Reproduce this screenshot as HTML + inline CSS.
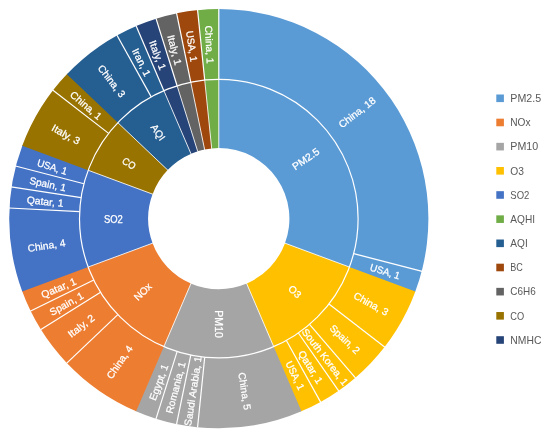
<!DOCTYPE html>
<html><head><meta charset="utf-8"><title>Sunburst</title>
<style>
html,body{margin:0;padding:0;background:#fff;}
body{width:550px;height:435px;overflow:hidden;}
svg{display:block;}
.il line{stroke:#fff;stroke-width:0.85;}
.ol line,.ol circle{stroke:#fff;stroke-width:1.2;}
.l text{font-family:"Liberation Sans",sans-serif;font-size:10.1px;fill:#fff;text-anchor:middle;stroke:#fff;stroke-width:0.25;}
.g text{font-family:"Liberation Sans",sans-serif;font-size:10.4px;fill:#595959;}
</style></head><body>
<svg width="550" height="435" viewBox="0 0 550 435">
<rect width="550" height="435" fill="#fff"/>
<g>
<path d="M218.80,9.05A209.6,209.6 0 0 1 415.03,292.30L284.90,243.46A70.6,70.6 0 0 0 218.80,148.05Z" fill="#5B9BD5"/>
<path d="M415.35,291.45A209.6,209.6 0 0 1 300.62,411.62L246.36,283.65A70.6,70.6 0 0 0 285.01,243.17Z" fill="#FFC000"/>
<path d="M301.46,411.26A209.6,209.6 0 0 1 135.30,410.90L190.68,283.41A70.6,70.6 0 0 0 246.64,283.53Z" fill="#A5A5A5"/>
<path d="M136.14,411.26A209.6,209.6 0 0 1 21.93,290.59L152.49,242.88A70.6,70.6 0 0 0 190.96,283.53Z" fill="#ED7D31"/>
<path d="M22.25,291.45A209.6,209.6 0 0 1 22.57,145.00L152.70,193.84A70.6,70.6 0 0 0 152.59,243.17Z" fill="#4472C4"/>
<path d="M22.25,145.85A209.6,209.6 0 0 1 67.51,73.58L167.84,169.79A70.6,70.6 0 0 0 152.59,194.13Z" fill="#997300"/>
<path d="M66.88,74.24A209.6,209.6 0 0 1 136.98,25.68L191.24,153.65A70.6,70.6 0 0 0 167.63,170.01Z" fill="#255E91"/>
<path d="M136.14,26.04A209.6,209.6 0 0 1 156.93,18.39L197.96,151.20A70.6,70.6 0 0 0 190.96,153.77Z" fill="#264478"/>
<path d="M156.05,18.66A209.6,209.6 0 0 1 177.50,13.16L204.89,149.43A70.6,70.6 0 0 0 197.66,151.29Z" fill="#636363"/>
<path d="M176.61,13.34A209.6,209.6 0 0 1 198.51,10.03L211.96,148.38A70.6,70.6 0 0 0 204.59,149.50Z" fill="#9E480E"/>
<path d="M197.60,10.13A209.6,209.6 0 0 1 218.80,9.05L218.80,148.05A70.6,70.6 0 0 0 211.66,148.41Z" fill="#70AD47"/>
</g>
<g class="il">
<line x1="218.80" y1="148.55" x2="218.80" y2="79.35"/>
<line x1="284.54" y1="243.00" x2="349.43" y2="267.03"/>
<line x1="246.44" y1="283.07" x2="273.73" y2="346.66"/>
<line x1="191.16" y1="283.07" x2="163.87" y2="346.66"/>
<line x1="153.06" y1="243.00" x2="88.17" y2="267.03"/>
<line x1="153.06" y1="194.30" x2="88.17" y2="170.27"/>
<line x1="167.99" y1="170.35" x2="117.84" y2="122.68"/>
<line x1="191.16" y1="154.23" x2="163.87" y2="90.64"/>
<line x1="197.81" y1="151.76" x2="177.10" y2="85.74"/>
<line x1="204.69" y1="149.98" x2="190.76" y2="82.20"/>
<line x1="211.71" y1="148.91" x2="204.71" y2="80.06"/>
</g>
<g class="ol">
<line x1="353.65" y1="253.57" x2="422.19" y2="271.31"/>
<line x1="328.96" y1="303.92" x2="384.94" y2="347.25"/>
<line x1="309.54" y1="324.35" x2="355.65" y2="378.07"/>
<line x1="298.38" y1="332.98" x2="338.82" y2="391.09"/>
<line x1="286.40" y1="340.45" x2="320.76" y2="402.35"/>
<line x1="204.71" y1="357.24" x2="197.54" y2="427.67"/>
<line x1="190.76" y1="355.10" x2="176.51" y2="424.45"/>
<line x1="177.10" y1="351.56" x2="155.90" y2="419.11"/>
<line x1="117.84" y1="314.62" x2="66.52" y2="363.40"/>
<line x1="100.58" y1="292.33" x2="40.50" y2="329.79"/>
<line x1="93.74" y1="280.00" x2="30.17" y2="311.18"/>
<line x1="79.68" y1="211.59" x2="8.97" y2="208.01"/>
<line x1="81.11" y1="197.56" x2="11.12" y2="186.84"/>
<line x1="83.95" y1="183.73" x2="15.41" y2="165.99"/>
<line x1="108.64" y1="133.38" x2="52.66" y2="90.05"/>
<line x1="151.20" y1="96.85" x2="116.84" y2="34.95"/>
<line x1="163.87" y1="90.64" x2="135.95" y2="25.58"/>
<line x1="177.10" y1="85.74" x2="155.90" y2="18.19"/>
<line x1="190.76" y1="82.20" x2="176.51" y2="12.85"/>
<line x1="204.71" y1="80.06" x2="197.54" y2="9.63"/>
<line x1="218.80" y1="79.35" x2="218.80" y2="8.55"/>
<circle cx="218.8" cy="218.65" r="139.3" fill="none"/>
</g>
<g class="l">
<text x="305.35" y="158.41" transform="rotate(-34.84 305.35 158.41)" dy="4.1" textLength="30.60" lengthAdjust="spacingAndGlyphs">PM2.5</text>
<text x="356.75" y="111.87" transform="rotate(-37.74 356.75 111.87)" dy="4.1" textLength="43.87" lengthAdjust="spacingAndGlyphs">China, 18</text>
<text x="385.25" y="270.87" transform="rotate(17.42 385.25 270.87)" dy="4.1" textLength="30.88" lengthAdjust="spacingAndGlyphs">USA, 1</text>
<text x="295.23" y="291.30" transform="rotate(43.55 295.23 291.30)" dy="4.1" textLength="13.56" lengthAdjust="spacingAndGlyphs">O3</text>
<text x="371.33" y="303.31" transform="rotate(29.03 371.33 303.31)" dy="4.1" textLength="37.99" lengthAdjust="spacingAndGlyphs">China, 3</text>
<text x="345.24" y="338.84" transform="rotate(43.55 345.24 338.84)" dy="4.1" textLength="37.13" lengthAdjust="spacingAndGlyphs">Spain, 2</text>
<text x="325.58" y="356.60" transform="rotate(52.26 325.58 356.60)" dy="4.1" textLength="68.69" lengthAdjust="spacingAndGlyphs">South Korea, 1</text>
<text x="311.08" y="366.70" transform="rotate(58.06 311.08 366.70)" dy="4.1" textLength="37.00" lengthAdjust="spacingAndGlyphs">Qatar, 1</text>
<text x="295.63" y="375.27" transform="rotate(63.87 295.63 375.27)" dy="4.1" textLength="30.88" lengthAdjust="spacingAndGlyphs">USA, 1</text>
<text x="218.80" y="324.10" transform="rotate(90.00 218.80 324.10)" dy="4.1" textLength="27.67" lengthAdjust="spacingAndGlyphs">PM10</text>
<text x="245.22" y="391.09" transform="rotate(81.29 245.22 391.09)" dy="4.1" textLength="37.99" lengthAdjust="spacingAndGlyphs">China, 5</text>
<text x="192.38" y="391.09" transform="rotate(278.71 192.38 391.09)" dy="4.1" textLength="70.14" lengthAdjust="spacingAndGlyphs">Saudi Arabia, 1</text>
<text x="175.07" y="387.53" transform="rotate(284.52 175.07 387.53)" dy="4.1" textLength="52.71" lengthAdjust="spacingAndGlyphs">Romania, 1</text>
<text x="158.21" y="382.24" transform="rotate(290.32 158.21 382.24)" dy="4.1" textLength="37.70" lengthAdjust="spacingAndGlyphs">Egypt, 1</text>
<text x="142.37" y="291.30" transform="rotate(316.45 142.37 291.30)" dy="4.1" textLength="20.12" lengthAdjust="spacingAndGlyphs">NOx</text>
<text x="119.14" y="361.83" transform="rotate(304.84 119.14 361.83)" dy="4.1" textLength="37.99" lengthAdjust="spacingAndGlyphs">China, 4</text>
<text x="80.85" y="325.43" transform="rotate(322.26 80.85 325.43)" dy="4.1" textLength="30.71" lengthAdjust="spacingAndGlyphs">Italy, 2</text>
<text x="66.27" y="303.31" transform="rotate(330.97 66.27 303.31)" dy="4.1" textLength="37.13" lengthAdjust="spacingAndGlyphs">Spain, 1</text>
<text x="58.49" y="287.45" transform="rotate(336.77 58.49 287.45)" dy="4.1" textLength="37.00" lengthAdjust="spacingAndGlyphs">Qatar, 1</text>
<text x="113.35" y="218.65" transform="rotate(360.00 113.35 218.65)" dy="4.1" textLength="18.89" lengthAdjust="spacingAndGlyphs">SO2</text>
<text x="46.36" y="245.07" transform="rotate(351.29 46.36 245.07)" dy="4.1" textLength="37.99" lengthAdjust="spacingAndGlyphs">China, 4</text>
<text x="45.25" y="201.00" transform="rotate(365.81 45.25 201.00)" dy="4.1" textLength="37.00" lengthAdjust="spacingAndGlyphs">Qatar, 1</text>
<text x="47.92" y="183.53" transform="rotate(371.61 47.92 183.53)" dy="4.1" textLength="37.13" lengthAdjust="spacingAndGlyphs">Spain, 1</text>
<text x="52.35" y="166.43" transform="rotate(377.42 52.35 166.43)" dy="4.1" textLength="30.88" lengthAdjust="spacingAndGlyphs">USA, 1</text>
<text x="129.31" y="162.87" transform="rotate(391.94 129.31 162.87)" dy="4.1" textLength="13.76" lengthAdjust="spacingAndGlyphs">CO</text>
<text x="66.27" y="133.99" transform="rotate(389.03 66.27 133.99)" dy="4.1" textLength="30.71" lengthAdjust="spacingAndGlyphs">Italy, 3</text>
<text x="86.43" y="105.02" transform="rotate(400.65 86.43 105.02)" dy="4.1" textLength="37.99" lengthAdjust="spacingAndGlyphs">China, 1</text>
<text x="158.56" y="132.10" transform="rotate(415.16 158.56 132.10)" dy="4.1" textLength="17.31" lengthAdjust="spacingAndGlyphs">AQI</text>
<text x="112.02" y="80.70" transform="rotate(412.26 112.02 80.70)" dy="4.1" textLength="37.99" lengthAdjust="spacingAndGlyphs">China, 3</text>
<text x="141.97" y="62.03" transform="rotate(423.87 141.97 62.03)" dy="4.1" textLength="29.78" lengthAdjust="spacingAndGlyphs">Iran, 1</text>
<text x="158.21" y="55.06" transform="rotate(429.68 158.21 55.06)" dy="4.1" textLength="30.71" lengthAdjust="spacingAndGlyphs">Italy, 1</text>
<text x="175.07" y="49.77" transform="rotate(435.48 175.07 49.77)" dy="4.1" textLength="30.71" lengthAdjust="spacingAndGlyphs">Italy, 1</text>
<text x="192.38" y="46.21" transform="rotate(441.29 192.38 46.21)" dy="4.1" textLength="30.88" lengthAdjust="spacingAndGlyphs">USA, 1</text>
<text x="209.96" y="44.42" transform="rotate(447.10 209.96 44.42)" dy="4.1" textLength="37.99" lengthAdjust="spacingAndGlyphs">China, 1</text>
</g>
<g class="g">
<rect x="496.3" y="94.50" width="7.6" height="7.6" fill="#5B9BD5"/>
<text x="510.3" y="98.30" dy="0.36em" textLength="30.86" lengthAdjust="spacingAndGlyphs">PM2.5</text>
<rect x="496.3" y="118.67" width="7.6" height="7.6" fill="#ED7D31"/>
<text x="510.3" y="122.47" dy="0.36em" textLength="20.30" lengthAdjust="spacingAndGlyphs">NOx</text>
<rect x="496.3" y="142.84" width="7.6" height="7.6" fill="#A5A5A5"/>
<text x="510.3" y="146.64" dy="0.36em" textLength="27.91" lengthAdjust="spacingAndGlyphs">PM10</text>
<rect x="496.3" y="167.01" width="7.6" height="7.6" fill="#FFC000"/>
<text x="510.3" y="170.81" dy="0.36em" textLength="13.68" lengthAdjust="spacingAndGlyphs">O3</text>
<rect x="496.3" y="191.18" width="7.6" height="7.6" fill="#4472C4"/>
<text x="510.3" y="194.98" dy="0.36em" textLength="19.05" lengthAdjust="spacingAndGlyphs">SO2</text>
<rect x="496.3" y="215.35" width="7.6" height="7.6" fill="#70AD47"/>
<text x="510.3" y="219.15" dy="0.36em" textLength="24.75" lengthAdjust="spacingAndGlyphs">AQHI</text>
<rect x="496.3" y="239.52" width="7.6" height="7.6" fill="#255E91"/>
<text x="510.3" y="243.32" dy="0.36em" textLength="17.46" lengthAdjust="spacingAndGlyphs">AQI</text>
<rect x="496.3" y="263.69" width="7.6" height="7.6" fill="#9E480E"/>
<text x="510.3" y="267.49" dy="0.36em" textLength="12.60" lengthAdjust="spacingAndGlyphs">BC</text>
<rect x="496.3" y="287.86" width="7.6" height="7.6" fill="#636363"/>
<text x="510.3" y="291.66" dy="0.36em" textLength="25.39" lengthAdjust="spacingAndGlyphs">C6H6</text>
<rect x="496.3" y="312.03" width="7.6" height="7.6" fill="#997300"/>
<text x="510.3" y="315.83" dy="0.36em" textLength="13.88" lengthAdjust="spacingAndGlyphs">CO</text>
<rect x="496.3" y="336.20" width="7.6" height="7.6" fill="#264478"/>
<text x="510.3" y="340.00" dy="0.36em" textLength="31.08" lengthAdjust="spacingAndGlyphs">NMHC</text>
</g>
</svg>
</body></html>
